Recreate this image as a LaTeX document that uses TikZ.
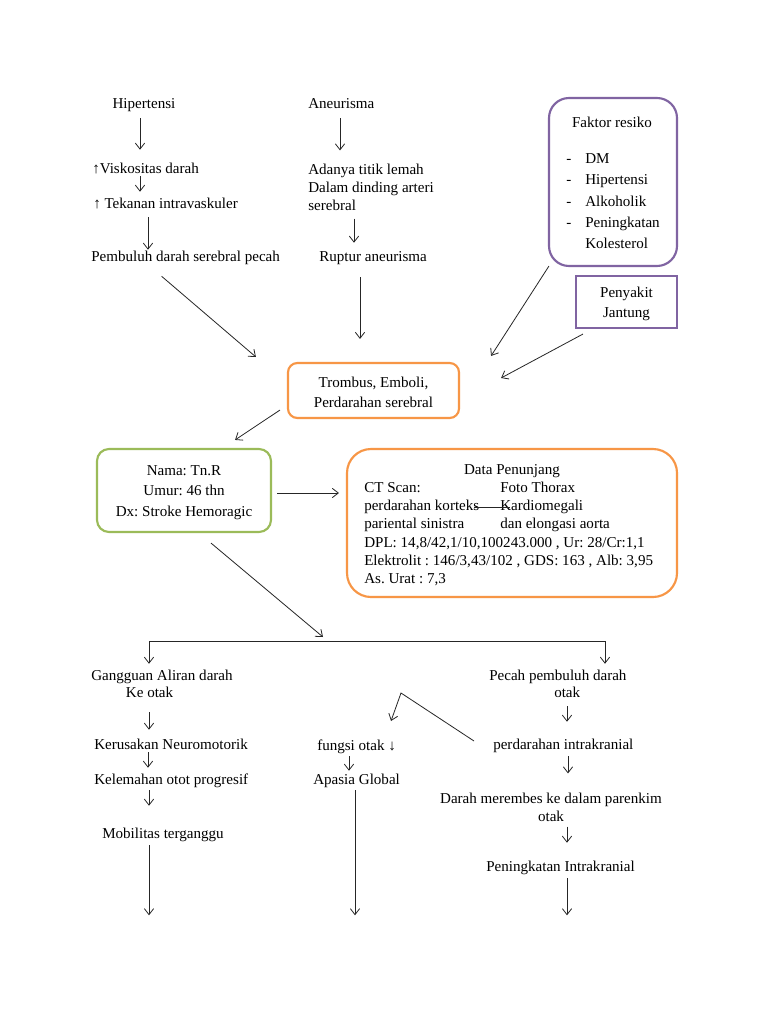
\documentclass[tikz,border=0pt]{standalone}
\usepackage{fontspec}
\setmainfont{Liberation Serif}
\usetikzlibrary{arrows.meta}
\usetikzlibrary{calc}
\definecolor{purp}{RGB}{128,100,162}
\definecolor{orng}{RGB}{247,150,70}
\definecolor{grn}{RGB}{155,187,89}
\frenchspacing

\begin{document}
\begin{tikzpicture}[x=0.75pt,y=0.75pt,yscale=-1,xscale=1,
  lbl/.style={inner sep=0.75pt, font=\fontsize{11.3}{13.5}\selectfont, text height=9.5pt, text depth=1pt},
  blk/.style={inner sep=0.75pt, font=\fontsize{11.3}{13.5}\selectfont},
  arr/.style={draw=black!85, line width=0.6pt, -{Straight Barb[length=4.5pt,width=7pt]}},
  ln/.style={draw=black!85, line width=0.6pt},
  rbox/.style={draw=#1, line width=1.6pt, inner sep=0pt}
]
%set diagram size
\path[fill=white] (0,0) rectangle (768,1024);

% Text Node
\node[lbl] (hip) at (144,103) {Hipertensi};
\node[lbl, anchor=west] (visk) at (91,168) {↑Viskositas darah};
\node[lbl, anchor=west] (tek) at (92,203) {↑ Tekanan intravaskuler};
\node[lbl, anchor=west] (pemb) at (90,256) {Pembuluh darah serebral pecah};
% Text Node
\node[lbl, anchor=west] (aneu) at (307,103) {Aneurisma};
\node[blk, anchor=west, align=left] (titik) at (307,187) {Adanya titik lemah\\Dalam dinding arteri\\serebral};
\node[lbl, anchor=west] (rupt) at (318,256) {Ruptur aneurisma};

%Shape: Rounded Rect
\node[rbox=purp, rounded corners=15pt, minimum width=96pt, minimum height=126pt] (fak) at (613,182) {};
\node[lbl] (fakt) at (612,122) {Faktor resiko};
\node[blk, anchor=west, font=\fontsize{11.3}{16}\selectfont] (fakl) at (565,202) {\begin{tabular}{@{}l@{\hspace{10.5pt}}l}-&DM\\-&Hipertensi\\-&Alkoholik\\-&Peningkatan\\&Kolesterol\end{tabular}};
%Shape: Rectangle
\node[rbox=purp, minimum width=75.75pt, minimum height=39pt] (pj) at (626.5,302) {};
\node[blk, align=center, font=\fontsize{11.3}{15}\selectfont] (pjt) at (626.5,304) {Penyakit\\Jantung};

%Shape: Rounded Rect
\node[rbox=orng, rounded corners=7pt, minimum width=128.25pt, minimum height=41.25pt] (trom) at (373.5,390.5) {};
\node[blk, align=center, font=\fontsize{11.3}{15}\selectfont] (tromt) at (373.5,392.5) {Trombus, Emboli,\\Perdarahan serebral};
%Shape: Rounded Rect
\node[rbox=grn, rounded corners=9pt, minimum width=130.5pt, minimum height=62.25pt] (nama) at (184,490.5) {};
\node[blk, align=center, font=\fontsize{11.3}{15.4}\selectfont] (namat) at (184,492.5) {Nama: Tn.R\\Umur: 46 thn\\Dx: Stroke Hemoragic};
%Shape: Rounded Rect
\node[rbox=orng, rounded corners=18pt, minimum width=247.5pt, minimum height=111pt] (dp) at (512,523) {};
\node[lbl] (dpt) at (512,469) {Data Penunjang};
\node[blk, anchor=west, align=left, font=\fontsize{11.3}{13.65}\selectfont] (dpi) at (363,534) {\makebox[102pt][l]{CT Scan:}Foto Thorax\\\makebox[102pt][l]{perdarahan korteks}Kardiomegali\\\makebox[102pt][l]{pariental sinistra}dan elongasi aorta\\DPL: 14,8/42,1/10,100243.000 , Ur: 28/Cr:1,1\\Elektrolit : 146/3,43/102 , GDS: 163 , Alb: 3,95\\As. Urat : 7,3};
%Straight Lines
\draw[ln] (474,507) -- (510,507);

% Text Node
\coordinate (brc) at (323,641);
\node[blk, anchor=west, align=left, font=\fontsize{11.3}{13}\selectfont] (gang) at (90,684) {Gangguan Aliran darah\\\hspace*{26pt}Ke otak};
\node[lbl, anchor=west] (keru) at (93,744) {Kerusakan Neuromotorik};
\node[lbl, anchor=west] (kele) at (93,779) {Kelemahan otot progresif};
\node[lbl, anchor=west] (mobi) at (101,833) {Mobilitas terganggu};
% Text Node
\coordinate (apx) at (401,693);
\node[lbl, anchor=west] (fung) at (316,745) {fungsi otak ↓};
\node[lbl, anchor=west] (apas) at (312,779) {Apasia Global};
% Text Node
\node[blk, anchor=west, align=left, font=\fontsize{11.3}{13}\selectfont] (pecah) at (488,684) {Pecah pembuluh darah\\\hspace*{48.75pt}otak};
\node[lbl, anchor=west] (pint) at (492,744) {perdarahan intrakranial};
\node[blk, align=center] (darah) at (551,807) {Darah merembes ke dalam parenkim\\otak};
\node[lbl, anchor=west] (peni) at (485,866) {Peningkatan Intrakranial};

%Straight Lines
\draw[arr, shorten <=5.25pt, shorten >=7.5pt] (hip.south -| 140,0) -- (visk.north -| 140,0);
\draw[arr, shorten <=0pt, shorten >=2.25pt] (visk.south -| 140,0) -- (tek.north -| 140,0);
\draw[arr, shorten <=4.5pt, shorten >=-1.5pt] (tek.south -| 148,0) -- (pemb.north -| 148,0);
\draw[arr, shorten <=5.25pt, shorten >=9pt] (aneu.south -| 340,0) -- (titik.north -| 340,0);
\draw[arr, shorten <=5.25pt, shorten >=3.75pt] (titik.south -| 354,0) -- (rupt.north -| 354,0);
\draw[arr] ($(pemb.south)+(-24,12)$) -- ($(trom.west)+(-31,-33.5)$);
\draw[arr, shorten <=9.75pt, shorten >=17.25pt] (rupt.south -| 360,0) -- (trom.north -| 360,0);
\draw[arr] ($(fak.south west)+(1,-1)$) -- ($(trom.north east)+(31,-6)$);
\draw[arr] ($(pj.south west)+(8,5)$) -- ($(trom.east)+(41,-12.5)$);
\draw[arr] ($(trom.south west)+(-7,-9)$) -- ($(nama.north east)+(-37,-8)$);
\draw[arr] ($(nama.east)+(5,2.5)$) -- ($(dp.west)+(-7,-30)$);
\draw[arr] ($(nama.south)+(27,10)$) -- ($(brc)+(0,-4)$);
%Straight Lines
\draw[arr, shorten >=3.75pt] (brc) -| (gang.north -| 149,0);
\draw[arr, shorten >=3.75pt] (brc) -| (pecah.north -| 605,0);
\draw[arr, shorten <=9.75pt, shorten >=4.5pt] (gang.south -| 149,0) -- (keru.north -| 149,0);
\draw[arr, shorten >=2.25pt] (keru.south -| 148,0) -- (kele.north -| 148,0);
\draw[arr, shorten <=2.25pt, shorten >=14.25pt] (kele.south -| 149,0) -- (mobi.north -| 149,0);
\draw[arr, shorten <=3pt] (mobi.south -| 149,0) -- ++(0,74);
%Straight Lines
\draw[arr] ($(pint.west)+(-18,-3)$) -- (apx) -- ++(-10,28);
\draw[arr, shorten <=2.25pt] (fung.south -| 349,0) -- (apas.north -| 349,0);
\draw[arr, shorten <=2.25pt] (apas.south -| 355,0) -- ++(0,128);
%Straight Lines
\draw[arr, shorten <=5.25pt, shorten >=10.5pt] (pecah.south -| 567,0) -- (pint.north -| 567,0);
\draw[arr, shorten <=3pt, shorten >=13.5pt] (pint.south -| 568,0) -- (darah.north -| 568,0);
\draw[arr, shorten <=3pt, shorten >=11.25pt] (darah.south -| 567,0) -- (peni.north -| 567,0);
\draw[arr, shorten <=3pt] (peni.south -| 567,0) -- ++(0,41);

\end{tikzpicture}
\end{document}
